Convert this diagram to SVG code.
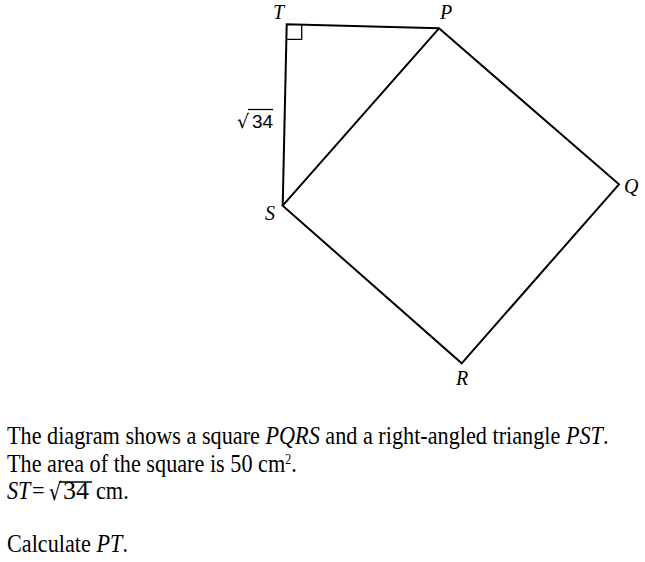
<svg xmlns="http://www.w3.org/2000/svg" width="645" height="562" viewBox="0 0 645 562">
<style>
.ln{stroke:#000;stroke-width:2;fill:none;stroke-linejoin:miter}
.thin{stroke:#000;stroke-width:1.3;fill:none}
.lbl{font-family:"Liberation Serif",serif;font-style:italic;font-size:20px;fill:#000}
.num{font-family:"Liberation Sans",sans-serif;font-size:19px;fill:#000}
.rad{font-family:"DejaVu Sans",sans-serif;fill:#000}
.body{font-family:"Liberation Serif",serif;font-size:26px;fill:#000}
.it{font-style:italic}
</style>
<rect width="645" height="562" fill="#fff"/>
<g id="connectors">
<polygon class="ln" points="439,28.3 619,184.3 461.7,363.3 282.7,205.7"/>
<polyline class="ln" points="439,28.3 286.7,24.3 282.7,205.7"/>
<polyline class="thin" points="286.5,39.3 301.7,39.3 301.7,24.7"/>
</g>
<g id="node-T"><text class="lbl" x="273" y="19">T</text></g>
<g id="node-P"><text class="lbl" x="440" y="19">P</text></g>
<g id="node-Q"><text class="lbl" x="624" y="193">Q</text></g>
<g id="node-R"><text class="lbl" x="456" y="385">R</text></g>
<g id="node-S"><text class="lbl" x="265" y="220">S</text></g>
<g id="label-ST">
<text class="rad" x="237" y="128" font-size="19">√</text>
<text class="num" x="252" y="128">34</text>
<line class="thin" x1="248" y1="109.5" x2="273" y2="109.5"/>
</g>
<g id="question">
<text class="body" transform="translate(7,444) scale(0.855,1)" x="0" y="0">The diagram shows a square <tspan class="it">PQRS</tspan> and a right-angled triangle <tspan class="it">PST</tspan>.</text>
<text class="body" transform="translate(7,471.5) scale(0.855,1)" x="0" y="0">The area of the square is 50 cm<tspan font-size="14" dy="-8">2</tspan><tspan dy="8">.</tspan></text>
<text class="body it" transform="translate(7,499) scale(0.855,1)" x="0" y="0">ST</text>
<text class="body" transform="translate(32,499) scale(0.855,1)" x="0" y="0">=</text>
<text class="rad" transform="translate(49,500) scale(0.8,1)" x="0" y="0" font-size="24">√</text>
<text class="body" x="63" y="499" font-size="27">34</text>
<line class="thin" x1="59" y1="482" x2="92" y2="482"/>
<text class="body" transform="translate(96,499) scale(0.855,1)" x="0" y="0">cm.</text>
<text class="body" transform="translate(7,552) scale(0.855,1)" x="0" y="0">Calculate <tspan class="it">PT</tspan>.</text>
</g>
</svg>
